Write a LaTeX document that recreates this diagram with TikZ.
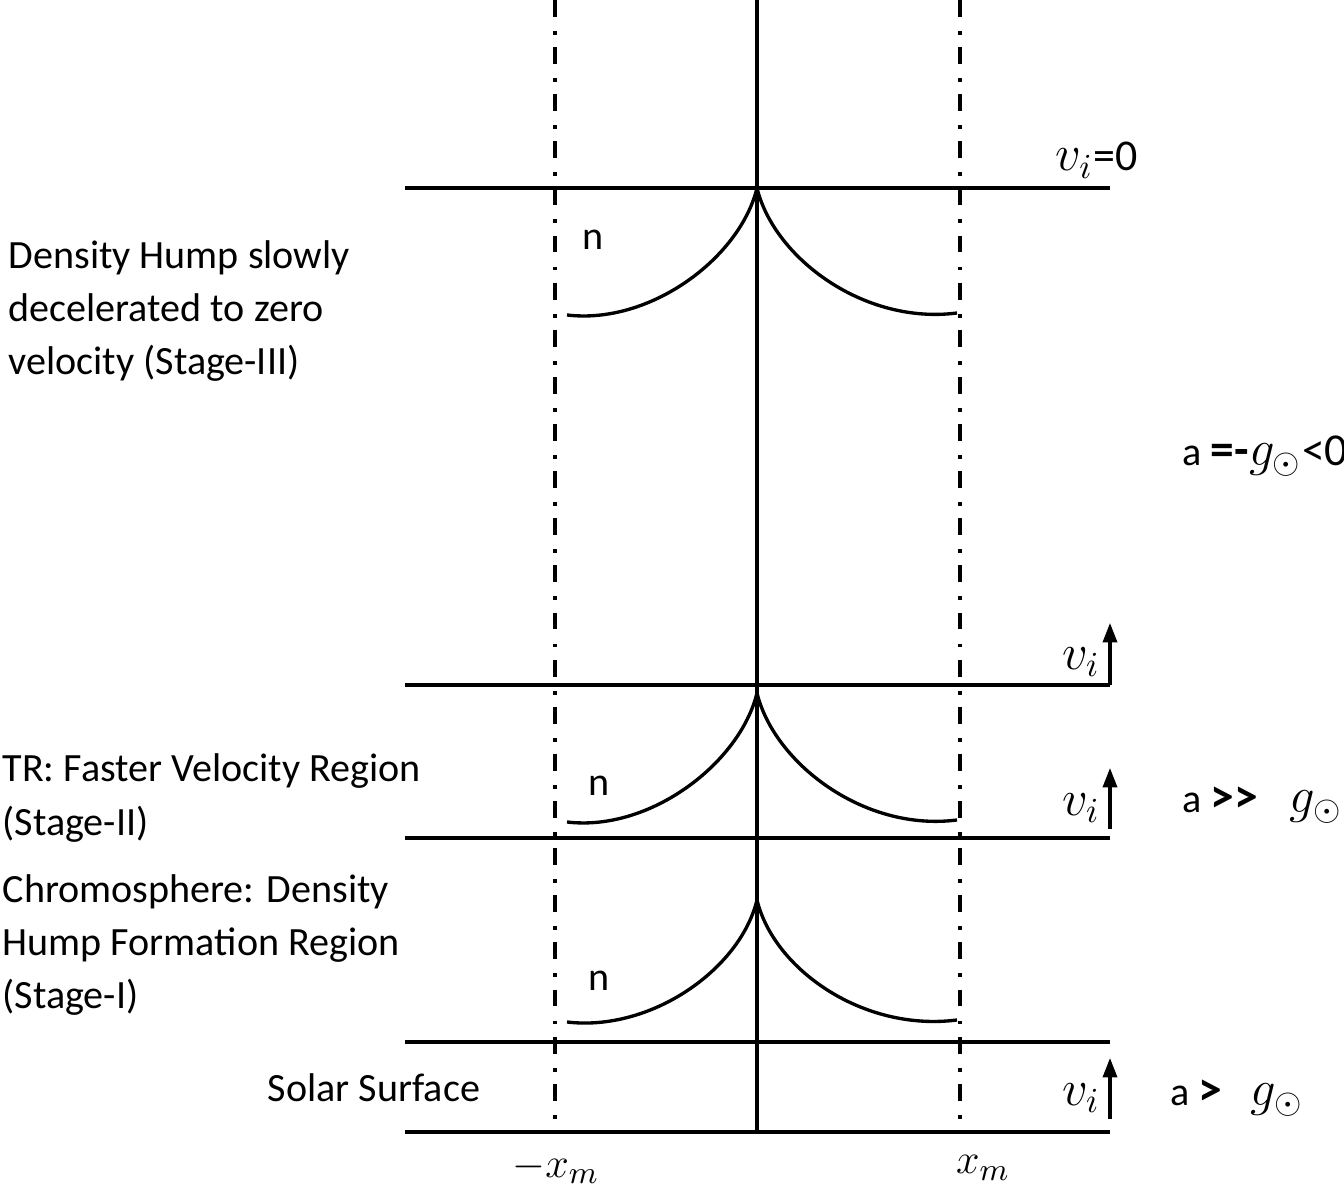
\documentclass[tikz,border=0pt]{standalone}
\usepackage{fontspec}
\setmainfont{Carlito}
\usetikzlibrary{arrows.meta}
\usetikzlibrary{positioning}

\tikzset{
  txt/.style={font=\fontsize{11.4}{15.1}\selectfont, inner sep=0pt},
  lbl/.style={txt, align=left, anchor=west},
  mth/.style={font=\fontsize{14.5}{17}\selectfont, inner sep=0pt},
  level/.style={line width=1.1pt},
  bound/.style={line width=1.1pt, dash pattern=on 4.8pt off 4pt on 1.1pt off 3.5pt},
  hump/.style={line width=0.95pt},
  vel/.style={line width=0.9pt, -{Triangle[length=5.5pt,width=4pt]}}
}
\newcommand\bigrel[1]{{\fontsize{13.5}{15}\selectfont\bfseries #1}}

\begin{document}
\begin{tikzpicture}[x=0.01cm, y=-0.01cm]
\useasboundingbox (0,0) rectangle (1344,1192);

% axis and boundaries
\coordinate (axtop) at (757,0);
\coordinate (axbot) at (757,1132);
\draw[level] (axtop) -- (axbot);
\coordinate (lbtop) at (555,0);
\coordinate (lbbot) at (555,1132);
\coordinate (rbtop) at (960,0);
\coordinate (rbbot) at (960,1132);
\draw[bound] (lbtop) -- (lbbot);
\draw[bound] (rbtop) -- (rbbot);

% levels
\foreach \name/\y in {zero/188, tr/685, chr/838, hump/1042, surf/1132}{
  \coordinate (\name L) at (405,\y);
  \coordinate (\name R) at (1110,\y);
  \draw[level] (\name L) -- (\name R);
}

% density humps
\foreach \pk/\lo in {188/315, 693/822, 900/1022}{
  \draw[hump] (567,\lo) .. controls (650,\lo+10) and (740,\pk+70) .. (757,\pk)
              .. controls (774,\pk+70) and (864,\lo+10) .. (957,\lo-2);
}
\node[txt] (n3) at (593,240) {n};
\node[txt] (n2) at (599,786) {n};
\node[txt] (n1) at (599,981) {n};

% velocities
\coordinate (v2tip) at (1110,623);
\draw[vel] (trR) -- (v2tip);
\coordinate (v1a) at (1110,829);
\coordinate (v1tip) at (1110,768);
\draw[vel] (v1a) -- (v1tip);
\coordinate (v0a) at (1110,1119);
\coordinate (v0tip) at (1110,1058);
\draw[vel] (v0a) -- (v0tip);

\node[mth, anchor=east] (vzero) at (1138,160) {$v_i$\fontsize{12.5}{15}\selectfont=0};
\node[mth] (vtr) at (1081,662) {$v_i$};
\node[mth] (vchr) at (1081,808) {$v_i$};
\node[mth] (vsurf) at (1081,1098) {$v_i$};

% accelerations
\node[lbl] (acc3) at (1182,456) {a \bigrel{=-}{\fontsize{14.5}{17}\selectfont$g_\odot$}{\fontsize{13}{15}\selectfont<0}};
\node[lbl] (acc2) at (1182,805) {a \bigrel{>{}>}\hspace{9pt}{\fontsize{14.5}{17}\selectfont$g_\odot$}};
\node[lbl] (acc1) at (1170,1098) {a \bigrel{>}\hspace{8pt}{\fontsize{14.5}{17}\selectfont$g_\odot$}};

% region labels
\node[lbl] (stage3) at (8,311) {Density Hump slowly\\decelerated to zero\\velocity (Stage-III)};
\node[lbl] (stage2) at (2,798) {TR: Faster Velocity Region\\(Stage-II)};
\node[lbl] (stage1) at (2,945) {Chromosphere: Density\\Hump Formation Region\\(Stage-I)};
\node[txt] (surface) at (374,1088) {Solar Surface};

% bounds
\node[mth, font=\fontsize{13}{15}\selectfont] (xmin) at (556,1168) {$-x_m$};
\node[mth, font=\fontsize{13}{15}\selectfont] (xmax) at (983,1168) {$x_m$};
\end{tikzpicture}
\end{document}
